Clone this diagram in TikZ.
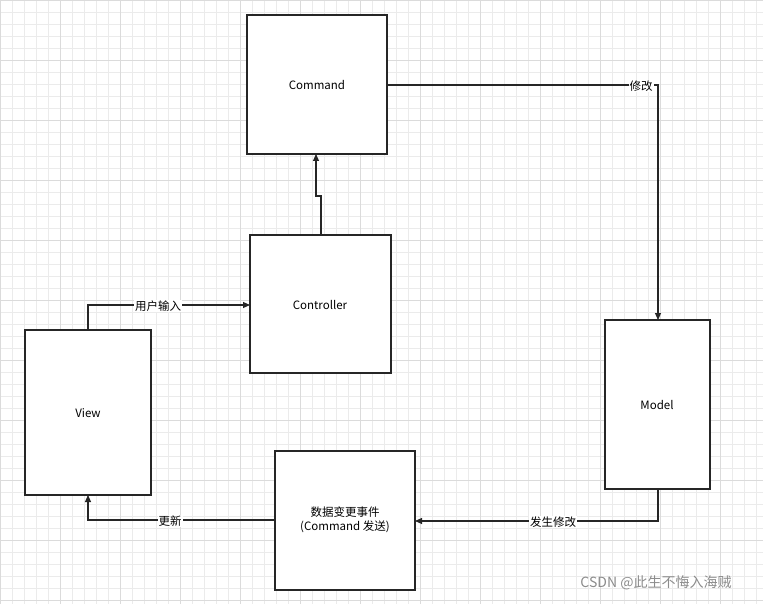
\documentclass[tikz,border=0pt]{standalone}
\usepackage{fontspec}
\setmainfont{Noto Sans CJK SC}
\usetikzlibrary{arrows.meta}
\begin{document}
\begin{tikzpicture}[x=1pt,y=-1pt,
  box/.style={draw=black!85,line width=1.2pt,fill=white},
  conn/.style={draw=black!85,line width=1.1pt,-{Triangle[length=7pt,width=6pt]}},
  lbl/.style={fill=white,inner sep=1pt,font=\fontsize{11.5}{13}\selectfont},
  txt/.style={font=\fontsize{11.5}{14}\selectfont,align=center}]
\fill[white] (0,0) rectangle (763,604);
\useasboundingbox (0,0) rectangle (763,604);
\foreach \i in {0,12,...,756} \draw[black!8,line width=0.3pt] (\i,0) -- (\i,604);
\foreach \i in {0,12,...,600} \draw[black!8,line width=0.3pt] (0,\i) -- (763,\i);
\foreach \i in {0,60,...,720} \draw[black!14,line width=0.4pt] (\i,0) -- (\i,604);
\foreach \i in {0,60,...,600} \draw[black!14,line width=0.4pt] (0,\i) -- (763,\i);
\draw[box] (247,15) rectangle (387,154); \node[txt] (cmd) at (317,85) {Command};
\draw[box] (250,235) rectangle (391,373); \node[txt] (ctl) at (320,305) {Controller};
\draw[box] (25,330) rectangle (151,495); \node[txt] (view) at (88,413) {View};
\draw[box] (605,320) rectangle (710,489); \node[txt] (model) at (657,405) {Model};
\draw[box] (275,451) rectangle (415,590); \node[txt] (evt) at (345,520) {数据变更事件\\(Command 发送)};
\coordinate (cmdR) at (387,85); \coordinate (modT) at (658,320);
\coordinate (ctlT) at (321,235); \coordinate (cmdB) at (316,154);
\coordinate (viewT) at (88,330); \coordinate (ctlL) at (250,305);
\coordinate (modB) at (658,489); \coordinate (evtR) at (415,521);
\coordinate (evtL) at (275,520); \coordinate (viewB) at (88,495);
\draw[conn] (cmdR) -- (658,85) -- (modT);
\node[lbl] at (641,86) {修改};
\draw[conn] (ctlT) -- (321,196) -- (316,196) -- (cmdB);
\draw[conn] (viewT) -- (88,305) -- (ctlL);
\node[lbl] at (158,306) {用户输入};
\draw[conn] (modB) -- (658,521) -- (evtR);
\node[lbl] at (553,522) {发生修改};
\draw[conn] (evtL) -- (88,520) -- (viewB);
\node[lbl] at (170,521) {更新};
\node[font=\fontsize{14}{16}\selectfont,text=black!45] (wm) at (656,583) {CSDN @此生不悔入海贼};
\end{tikzpicture}
\end{document}
